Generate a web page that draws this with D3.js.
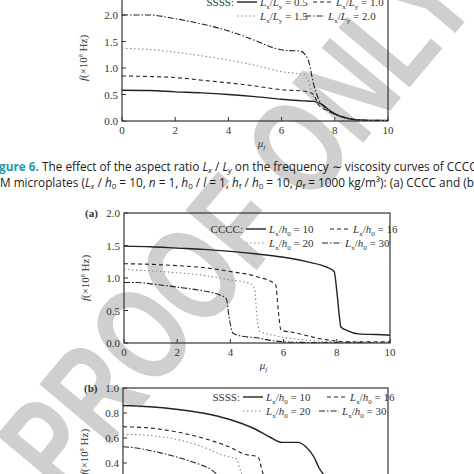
<!DOCTYPE html>
<html><head><meta charset="utf-8">
<script src="https://cdn.jsdelivr.net/npm/d3@7"></script>
<style>body{margin:0;background:#fff}svg{display:block}</style>
</head><body>
<svg id="c" width="474" height="474"></svg>
<script>
// data: [mu_f, f]
const ratioSeries = [
  [[0,0.58],[1,0.575],[2,0.55],[3,0.53],[4,0.5],[5,0.46],[6,0.41],[6.8,0.38],[7.2,0.37],[7.5,0.32],[7.8,0.2],[8.1,0.11],[8.5,0.05],[9,0.02],[9.5,0.01],[10,0.01]],
  [[0,0.85],[1,0.84],[2,0.82],[3,0.77],[4,0.72],[5,0.66],[6,0.59],[6.9,0.56],[7.2,0.5],[7.4,0.3],[7.8,0.18],[8.2,0.09],[8.6,0.04],[9.2,0.01],[10,0.01]],
  [[0,1.37],[1,1.35],[2,1.3],[3,1.23],[4,1.15],[5,1.05],[6,0.93],[6.9,0.87],[7.1,0.6],[7.3,0.35],[7.7,0.2],[8.2,0.08],[8.8,0.02],[10,0.01]],
  [[0,2.0],[1,2.0],[2,1.93],[3,1.83],[4,1.7],[5,1.52],[5.7,1.38],[6.2,1.33],[6.7,1.32],[7.0,1.15],[7.2,0.7],[7.4,0.4],[7.7,0.22],[8.2,0.09],[8.8,0.02],[10,0.01]]
];
const ratioLabels = ["0.5","1.0","1.5","2.0"];
const ccccSeries = [
  [[0,1.49],[1,1.48],[2,1.46],[3,1.44],[4,1.41],[5,1.37],[6,1.32],[7,1.24],[7.6,1.17],[7.9,1.1],[8.0,0.8],[8.1,0.4],[8.15,0.25],[8.4,0.19],[8.8,0.14],[9.5,0.13],[10,0.12]],
  [[0,1.22],[1,1.21],[2,1.19],[3,1.16],[4,1.1],[5,1.02],[5.7,0.9],[5.8,0.5],[5.9,0.2],[6.4,0.16],[7,0.1],[7.6,0.05],[8.5,0.02],[10,0.02]],
  [[0,1.13],[1,1.11],[2,1.08],[3,1.04],[4,0.97],[4.7,0.92],[4.9,0.85],[5.0,0.4],[5.1,0.18],[5.6,0.12],[6.5,0.06],[8,0.02],[10,0.01]],
  [[0,0.93],[0.5,0.93],[1,0.91],[2,0.86],[3,0.8],[3.6,0.74],[3.85,0.68],[3.95,0.4],[4.1,0.15],[4.5,0.1],[5,0.08],[5.5,0.04],[6.5,0.01],[10,0.0]]
];
const ssssSeries = [
  [[0,0.86],[1,0.85],[2,0.83],[3,0.8],[4,0.75],[5,0.67],[5.6,0.6],[6,0.565],[6.6,0.565],[6.9,0.53],[7.2,0.45],[7.4,0.36],[7.6,0.3]],
  [[0,0.69],[1,0.68],[2,0.65],[3,0.6],[4,0.53],[4.6,0.47],[5.1,0.45],[5.2,0.38],[5.3,0.3]],
  [[0,0.63],[1,0.62],[2,0.59],[3,0.53],[3.8,0.46],[4.3,0.43],[4.4,0.36],[4.5,0.3]],
  [[0,0.53],[0.5,0.52],[1,0.5],[2,0.45],[2.6,0.41],[3,0.38],[3.3,0.35],[3.6,0.3]]
];
const hLabels = ["10","16","20","30"];
const xTicks = [0,2,4,6,8,10];
const dashes = [null,"4,3","1.5,2.5","6,2,1.5,2"];
const strokes = ["#222","#222","#888","#222"];

const svg = d3.select("#c");
const font = "'Liberation Serif', serif";

// watermark drawn first, under the charts
svg.append("text").attr("transform","translate(245,228) rotate(-50)").attr("text-anchor","middle")
  .attr("font-family","'Liberation Sans', sans-serif").attr("font-size",135).attr("font-weight","bold")
  .attr("textLength",650).attr("lengthAdjust","spacingAndGlyphs")
  .attr("fill","#cfcfcf").attr("dominant-baseline","middle").text("PROOF ONLY");

function panel(o){
  const x = d3.scaleLinear().domain([0,10]).range([o.x0,o.x1]);
  const y = d3.scaleLinear().domain([0,o.yMax]).range([o.yBase,o.yTop]);
  const g = svg.append("g");
  const id = "cl"+o.name;
  svg.append("clipPath").attr("id",id).append("rect")
    .attr("x",o.x0).attr("y",Math.min(o.boxTop,o.yTop)).attr("width",o.x1-o.x0).attr("height",o.yBase-Math.min(o.boxTop,o.yTop));
  g.append("rect").attr("x",o.x0).attr("y",o.boxTop).attr("width",o.x1-o.x0).attr("height",o.yBase-o.boxTop)
    .attr("fill","none").attr("stroke","#333").attr("stroke-width",1.2);
  const line = d3.line().x(d=>x(d[0])).y(d=>y(d[1])).curve(d3.curveMonotoneX);
  o.series.forEach((s,i)=>{
    g.append("path").attr("d",line(s)).attr("clip-path",`url(#${id})`).attr("fill","none")
      .attr("stroke",strokes[i]).attr("stroke-width",i===0?1.4:1.1).attr("stroke-dasharray",dashes[i]);
  });
  o.yTicks.forEach(t=>{
    if(y(t)>474) return;
    g.append("line").attr("x1",o.x0).attr("x2",o.x0+4).attr("y1",y(t)).attr("y2",y(t)).attr("stroke","#333");
    g.append("text").attr("x",o.x0-4).attr("y",y(t)+4).attr("text-anchor","end").attr("font-family",font)
      .attr("font-size",11).attr("fill","#333").text(t.toFixed(1));
  });
  if(o.showX){
    xTicks.forEach(t=>{
      g.append("line").attr("x1",x(t)).attr("x2",x(t)).attr("y1",o.yBase).attr("y2",o.yBase-4).attr("stroke","#333");
      g.append("text").attr("x",x(t)).attr("y",o.yBase+13).attr("text-anchor","middle").attr("font-family",font)
        .attr("font-size",11).attr("fill","#333").text(t);
    });
    g.append("text").attr("x",x(5.1)).attr("y",o.yBase+26).attr("font-family",font).attr("font-style","italic")
      .attr("font-size",11).attr("fill","#333").html("μ<tspan font-size='7' dy='3'>f</tspan>");
  }
  const yl = g.append("text").attr("transform",`translate(${o.x0-35},${o.yLabelY}) rotate(-90)`).attr("text-anchor","middle")
    .attr("font-family",font).attr("font-size",11).attr("fill","#333");
  yl.append("tspan").attr("font-style","italic").text("f");
  yl.append("tspan").text("(×10");
  yl.append("tspan").attr("font-size",6).attr("dy",-4).text("8");
  yl.append("tspan").attr("dy",4).text(" Hz)");
  if(o.tag) g.append("text").attr("x",o.x0-39).attr("y",o.boxTop+4).attr("font-family",font).attr("font-weight","bold")
    .attr("font-size",11).attr("fill","#333").text(o.tag);
  const pos = [[o.legX,o.legY],[o.legX+o.legDX,o.legY],[o.legX,o.legY+14],[o.legX+o.legDX-8,o.legY+14]];
  g.append("text").attr("x",o.legX-3).attr("y",o.legY+4).attr("text-anchor","end").attr("font-family",font)
    .attr("font-size",11).attr("fill","#333").text(o.legTitle);
  o.labels.forEach((lb,i)=>{
    const [lx,ly] = pos[i];
    g.append("line").attr("x1",lx).attr("x2",lx+20).attr("y1",ly).attr("y2",ly)
      .attr("stroke",strokes[i]).attr("stroke-width",i===0?1.4:1.1).attr("stroke-dasharray",dashes[i]);
    const t = g.append("text").attr("x",lx+23).attr("y",ly+4).attr("font-family",font).attr("font-size",11).attr("fill","#333");
    t.append("tspan").attr("font-style","italic").text("L");
    t.append("tspan").attr("font-size",7).attr("dy",3).text("x");
    t.append("tspan").attr("dy",-3).text("/");
    t.append("tspan").attr("font-style","italic").text(o.denom==="h"?"h":"L");
    t.append("tspan").attr("font-size",7).attr("dy",3).text(o.denom==="h"?"0":"y");
    t.append("tspan").attr("dy",-3).text(" = "+lb);
  });
}

panel({name:"p1",x0:122,x1:388,yBase:121,yTop:15,yMax:2.0,boxTop:-8,yTicks:[0,0.5,1,1.5,2],
  series:ratioSeries,labels:ratioLabels,denom:"y",legTitle:"SSSS:",legX:237,legY:2,legDX:76,showX:true,yLabelY:58});
panel({name:"p2",x0:124,x1:390,yBase:343,yTop:213,yMax:2.0,boxTop:213,yTicks:[0,0.5,1,1.5,2],
  series:ccccSeries,labels:hLabels,denom:"h",legTitle:"CCCC:",legX:246,legY:229,legDX:84,showX:true,yLabelY:278,tag:"(a)"});
panel({name:"p3",x0:123,x1:388,yBase:513,yTop:388,yMax:1.0,boxTop:388,yTicks:[0,0.2,0.4,0.6,0.8,1],
  series:ssssSeries,labels:hLabels,denom:"h",legTitle:"SSSS:",legX:243,legY:397,legDX:84,showX:false,yLabelY:452,tag:"(b)"});

// caption
const cap = svg.append("g").attr("font-family","'Open Sans', 'Liberation Sans', sans-serif").attr("font-size",11.8).attr("fill","#222");
cap.append("text").attr("x",-1).attr("y",171).html("<tspan fill='#1a9aa8' font-weight='bold'>gure 6.</tspan> The effect of the aspect ratio <tspan font-style='italic'>L<tspan font-size='8' dy='2'>x</tspan></tspan><tspan dy='-2'> / </tspan><tspan font-style='italic'>L<tspan font-size='8' dy='2'>y</tspan></tspan><tspan dy='-2'> on the frequency ∼ viscosity curves of CCCC and SS</tspan>");
cap.append("text").attr("x",0).attr("y",187).html("M microplates (<tspan font-style='italic'>L<tspan font-size='8' dy='2'>x</tspan></tspan><tspan dy='-2'> / </tspan><tspan font-style='italic'>h</tspan><tspan font-size='8' dy='2'>0</tspan><tspan dy='-2'> = 10, </tspan><tspan font-style='italic'>n</tspan> = 1, <tspan font-style='italic'>h</tspan><tspan font-size='8' dy='2'>0</tspan><tspan dy='-2'> / </tspan><tspan font-style='italic'>l</tspan> = 1, <tspan font-style='italic'>h</tspan><tspan font-size='8' dy='2'>f</tspan><tspan dy='-2'> / </tspan><tspan font-style='italic'>h</tspan><tspan font-size='8' dy='2'>0</tspan><tspan dy='-2'> = 10, </tspan><tspan font-style='italic'>ρ</tspan><tspan font-size='8' dy='2'>f</tspan><tspan dy='-2'> = 1000 kg/m³): (a) CCCC and (b) SSS</tspan>");
</script>
</body></html>
